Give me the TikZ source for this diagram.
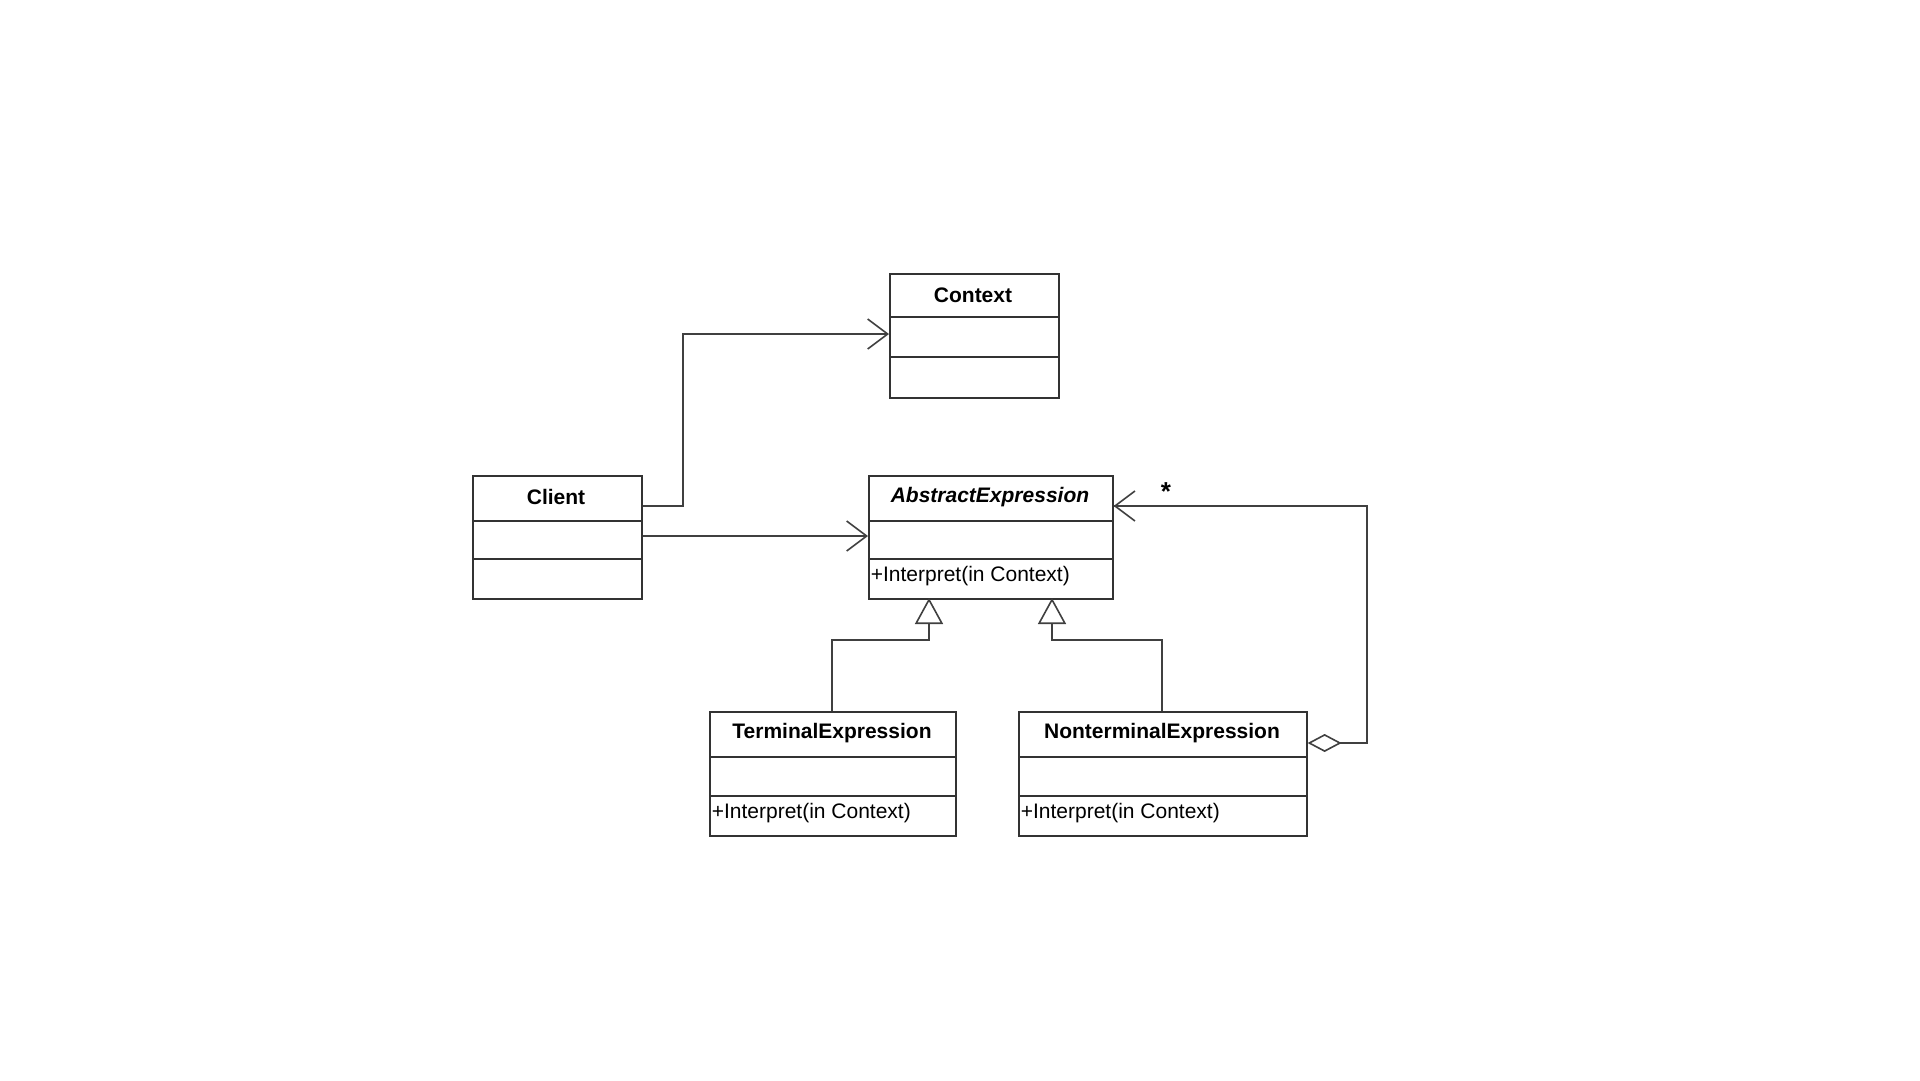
\documentclass[tikz,border=0pt]{standalone}
\usepackage{fontspec}
\setmainfont{Liberation Sans}
\usetikzlibrary{arrows.meta}
\begin{document}
\begin{tikzpicture}[x=1pt,y=-1pt,line width=1.6pt,
  cls/.style={draw=black!80,rectangle,inner sep=0pt,anchor=north west},
  ttl/.style={font=\fontsize{21}{24}\selectfont\bfseries,inner sep=0pt},
  op/.style={font=\fontsize{21}{24}\selectfont,inner sep=0pt,anchor=west},
  con/.style={draw=black!75},
  open/.style={-{Straight Barb[length=20pt,width=30pt,line width=1.6pt]}},
  gen/.style={-{Triangle[open,length=26pt,width=28pt,line width=1.6pt]}},
  agg/.style={{Diamond[open,length=34pt,width=18pt,line width=1.6pt]}-}]
\fill[white] (0,0) rectangle (1920,1080);
% boxes
\newcommand{\umlbox}[6]{% name, x1,y1,x2,y2, divider1/divider2
  \node[cls,minimum width=#4-#2,minimum height=#5-#3] (#1) at (#2,#3) {};}
\umlbox{ctx}{889}{273}{1058}{397}{}
\draw[black!80] (889,317)--(1058,317) (889,357)--(1058,357);
\node[ttl] (ctxt) at (973,295) {Context};
\umlbox{cli}{472}{475}{641}{598}{}
\draw[black!80] (472,521)--(641,521) (472,559)--(641,559);
\node[ttl] (clit) at (556,497) {Client};
\umlbox{abs}{868}{475}{1112}{598}{}
\draw[black!80] (868,521)--(1112,521) (868,559)--(1112,559);
\node[ttl,font=\fontsize{21}{24}\selectfont\bfseries\itshape] (abst) at (990,497) {AbstractExpression};
\node[op] (absop) at (870,576) {+Interpret(in Context)};
\umlbox{ter}{709}{711}{955}{835}{}
\draw[black!80] (709,757)--(955,757) (709,796)--(955,796);
\node[ttl] (tert) at (832,733) {TerminalExpression};
\node[op] (terop) at (711,813) {+Interpret(in Context)};
\umlbox{non}{1018}{711}{1306}{835}{}
\draw[black!80] (1018,757)--(1306,757) (1018,796)--(1306,796);
\node[ttl] (nont) at (1162,733) {NonterminalExpression};
\node[op] (nonop) at (1020,813) {+Interpret(in Context)};
% connectors
\draw[con,open] (cli.east|-0,506) -- (683,506) -- (683,334) -- (ctx.west|-0,334);
\draw[con,open] (cli.east|-0,536) -- (abs.west|-0,536);
\draw[con,gen] (832,711) -- (832,640) -- (929,640) -- (929,598);
\draw[con,gen] (1162,711) -- (1162,640) -- (1052,640) -- (1052,598);
\draw[con,agg] (non.east|-0,743) -- (1367,743) -- (1367,506) -- (abs.east|-0,506);
\path[con,open,draw] (1367,506) -- (abs.east|-0,506);
\node[font=\fontsize{26}{28}\selectfont\bfseries,inner sep=0pt] (star) at (1166,492) {*};
\end{tikzpicture}
\end{document}
